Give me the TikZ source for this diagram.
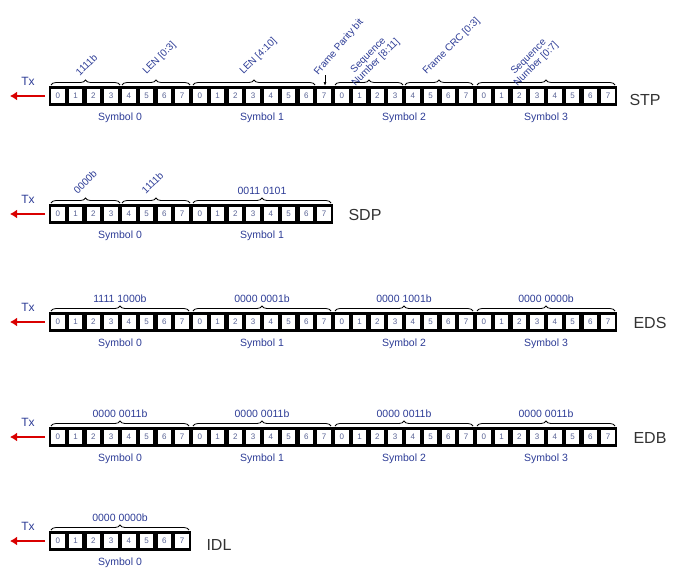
\documentclass[tikz,border=0pt]{standalone}
\usepackage{fontspec}
\setmainfont{Liberation Sans}
\usetikzlibrary{decorations.pathreplacing,arrows.meta}
\definecolor{lb}{RGB}{45,60,150}
\definecolor{nb}{RGB}{90,100,150}
\tikzset{
  x=1pt,y=-1pt,
  lbl/.style={text=lb,font=\fontsize{10.5}{11}\selectfont},
  rl/.style={lbl,rotate=45,anchor=south west,align=center,inner sep=1pt,font=\fontsize{10}{10.5}\selectfont},
  br/.style={decorate,decoration={brace,amplitude=5pt},thick},
  cell/.style={fill=white,draw=none,minimum width=13.5pt,minimum height=14pt,inner sep=0pt,text=nb,font=\fontsize{8}{8}\selectfont},
  tag/.style={font=\fontsize{16}{18}\selectfont,text=black!80},
}
\newcommand{\frm}[3]{% y, nsym, prefix
  \fill (49,#1-10) rectangle (49+142*#2,#1+10);
  \foreach \s in {1,...,#2}{
    \foreach \c in {0,...,7}{
      \node[cell] (#3\s c\c) at ({49+142*(\s-1)+17.75*\c+8.9},#1) {\c};
    }
    \node[lbl] (#3s\s) at ({49+142*(\s-1)+71},#1+22) {Symbol \the\numexpr\s-1\relax};
  }
  \node[lbl,font=\fontsize{12}{13}\selectfont] (#3tx) at (28,#1-15) {Tx};
  \coordinate (#3a) at (45,#1);
  \coordinate (#3b) at (10,#1);
  \draw[red!85!black,line width=2.8pt,-{Latex[length=7pt,width=9pt]}] (#3a) -- (#3b);
}
\begin{document}
\begin{tikzpicture}
\useasboundingbox (0,0) rectangle (685,587);
% STP
\frm{96}{4}{p}
\node[tag,anchor=west] (stp) at (626,100) {STP};
\draw[br] (51,85) -- (120,85);
\node[rl] at (80,78) {1111b};
\draw[br] (122,85) -- (190,85);
\node[rl] at (148,78) {LEN [0:3]};
\draw[br] (193,85) -- (315,85);
\node[rl] at (245,78) {LEN [4:10]};
\coordinate (fp) at (325,75);
\coordinate (fq) at (325,86);
\draw[-{Latex[length=4pt]},thick] (fp) -- (fq);
\node[rl,rotate=5] at (320,79) {Frame Parity bit};
\draw[br] (335,85) -- (403,85);
\node[rl] at (357,90) {Sequence\\Number [8:11]};
\draw[br] (405,85) -- (473,85);
\node[rl] at (428,78) {Frame CRC [0:3]};
\draw[br] (477,85) -- (615,85);
\node[rl] at (519,90) {Sequence\\Number [0:7]};
% SDP
\frm{214}{2}{d}
\node[tag,anchor=west] (sdp) at (345,215) {SDP};
\draw[br] (51,203) -- (120,203);
\node[rl] at (78,196) {0000b};
\draw[br] (122,203) -- (190,203);
\node[rl] at (146,196) {1111b};
\draw[br] (193,203) -- (331,203) node[midway,above=5pt,lbl] {0011 0101};
% EDS
\frm{322}{4}{e}
\node[tag,anchor=west] (eds) at (630,323) {EDS};
\draw[br] (51,311) -- (189,311) node[midway,above=5pt,lbl] {1111 1000b};
\draw[br] (193,311) -- (331,311) node[midway,above=5pt,lbl] {0000 0001b};
\draw[br] (335,311) -- (473,311) node[midway,above=5pt,lbl] {0000 1001b};
\draw[br] (477,311) -- (615,311) node[midway,above=5pt,lbl] {0000 0000b};
% EDB
\frm{437}{4}{f}
\node[tag,anchor=west] (edb) at (630,438) {EDB};
\draw[br] (51,426) -- (189,426) node[midway,above=5pt,lbl] {0000 0011b};
\draw[br] (193,426) -- (331,426) node[midway,above=5pt,lbl] {0000 0011b};
\draw[br] (335,426) -- (473,426) node[midway,above=5pt,lbl] {0000 0011b};
\draw[br] (477,426) -- (615,426) node[midway,above=5pt,lbl] {0000 0011b};
% IDL
\frm{541}{1}{g}
\node[tag,anchor=west] (idl) at (203,545) {IDL};
\draw[br] (51,530) -- (189,530) node[midway,above=5pt,lbl] {0000 0000b};
\end{tikzpicture}
\end{document}
